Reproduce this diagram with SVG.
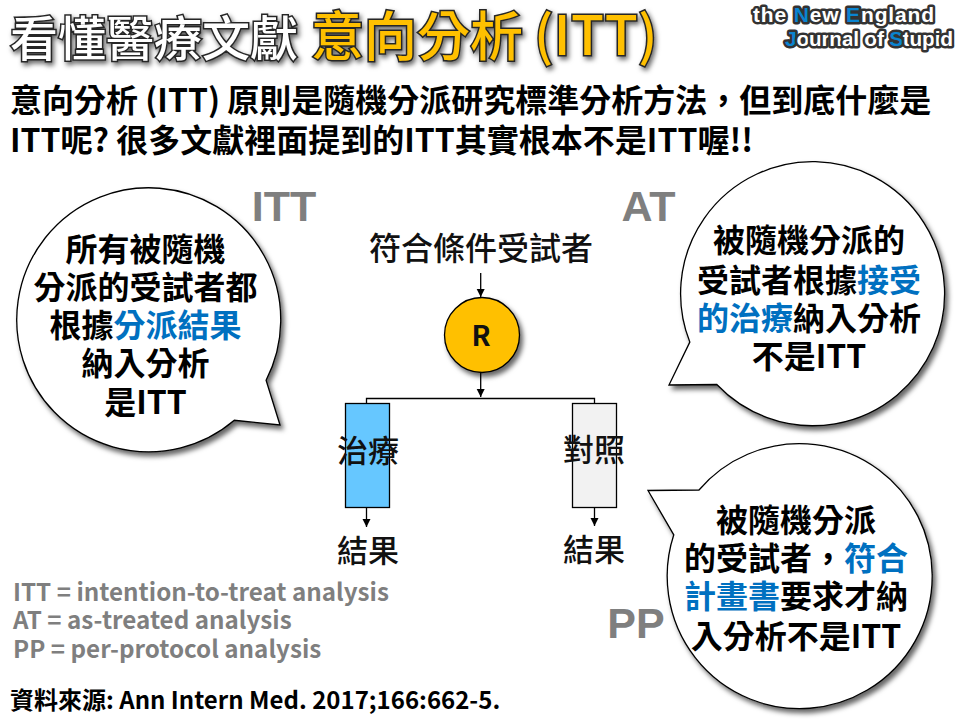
<svg xmlns="http://www.w3.org/2000/svg" width="960" height="720" viewBox="0 0 960 720">
<style>
text{font-family:"Noto Sans CJK TC","Noto Sans",sans-serif}
.title{font-size:48px;font-weight:500;stroke:#262626;stroke-width:3px;paint-order:stroke;filter:url(#ts)}
.body{font-size:32px;font-weight:700;fill:#000}
.big{font-size:32px;font-weight:700;fill:#000;text-anchor:middle}
.b{fill:#0070c0}
.node{font-size:31px;font-weight:500;fill:#111;text-anchor:middle}
.lab{font-family:"Liberation Sans",Arial,sans-serif;font-size:43px;font-weight:700;fill:#7f7f7f;text-anchor:middle}
.leg{font-size:24.200px;font-weight:700;fill:#7f7f7f}
.logo{font-family:"Liberation Sans",sans-serif;font-size:21px;font-weight:700;fill:#fff;stroke:#333;stroke-width:5px;paint-order:stroke;stroke-linejoin:round}
.bub{fill:#fff;stroke:#000;stroke-width:1.3;filter:url(#ds)}
.ln{fill:none;stroke:#000;stroke-width:1.3}
</style>
<defs>
<filter id="ds" x="-20%" y="-20%" width="140%" height="140%"><feDropShadow dx="3" dy="4" stdDeviation="2.5" flood-color="#000" flood-opacity="0.6"/></filter>
<filter id="ts" x="-10%" y="-30%" width="120%" height="170%"><feDropShadow dx="2" dy="3" stdDeviation="2.5" flood-color="#000" flood-opacity="0.6"/></filter>
<marker id="arr" markerWidth="10" markerHeight="10" refX="8" refY="4" orient="auto" markerUnits="userSpaceOnUse"><path d="M0 0L8 4L0 8Z" fill="#000"/></marker>
</defs>
<rect width="960" height="720" fill="#fff"/>
<g id="title">
<text x="10" y="56" class="title" fill="#fff">看懂醫療文獻</text>
<text x="311" y="56" class="title" fill="#ffc000" style="font-size:53px">意向分析</text>
<text x="534" y="55" class="title" fill="#ffc000" style="font-size:54px;letter-spacing:0.600px">(ITT)</text>
</g>
<g id="logo">
<text x="753" y="22" class="logo" textLength="181" lengthAdjust="spacing">the <tspan fill="#0a84d0">N</tspan>ew <tspan fill="#0a84d0">E</tspan>ngland</text>
<text x="785" y="46" class="logo" textLength="168" lengthAdjust="spacing"><tspan fill="#0a84d0">J</tspan>ournal of <tspan fill="#0a84d0">S</tspan>tupid</text>
</g>
<g id="intro">
<text x="10" y="112" class="body">意向分析 (ITT) 原則是隨機分派研究標準分析方法，但到底什麼是</text>
<text x="10" y="152" class="body">ITT呢? 很多文獻裡面提到的ITT其實根本不是ITT喔!!</text>
</g>
<g id="label-itt"><text x="284" y="221" class="lab">ITT</text></g>
<g id="label-at"><text x="648.500" y="221" class="lab">AT</text></g>
<g id="label-pp"><text x="636" y="638" class="lab">PP</text></g>
<g id="connectors">
<path class="ln" d="M480.700 273V297" marker-end="url(#arr)"/>
<path class="ln" d="M480.700 372V397" marker-end="url(#arr)"/>
<path class="ln" d="M366.500 403V398.500H594.500V403"/>
<path class="ln" d="M366.500 507V527" marker-end="url(#arr)"/>
<path class="ln" d="M594.500 507V526" marker-end="url(#arr)"/>
</g>
<g id="node-eligible"><text x="481" y="260" style="font-size:32px" class="node">符合條件受試者</text></g>
<g id="node-r">
<circle cx="482" cy="335" r="37.500" fill="#ffc000" stroke="#000" stroke-width="1.300" filter="url(#ds)"/>
<text x="481" y="346" style="font-size:28px;font-weight:700" class="node">R</text>
</g>
<g id="node-treat">
<rect x="345.500" y="403.500" width="44" height="104" fill="#66c7ff" stroke="#000" stroke-width="1.300"/>
<text x="368" y="462" class="node">治療</text>
</g>
<g id="node-control">
<rect x="572.500" y="403.500" width="44" height="104" fill="#f2f2f2" stroke="#000" stroke-width="1.300"/>
<text x="594" y="461" class="node">對照</text>
</g>
<g id="node-outcome1"><text x="368" y="562" class="node">結果</text></g>
<g id="node-outcome2"><text x="594" y="561" class="node">結果</text></g>
<g id="bubble-itt">
<path class="bub" d="M266.100 380.200A132 132 0 1 0 234.300 420.300L280 425Z"/>
<text class="big" x="145.500" y="261">所有被隨機</text>
<text class="big" x="145.500" y="299">分派的受試者都</text>
<text class="big" x="145.500" y="337">根據<tspan class="b">分派結果</tspan></text>
<text class="big" x="145.500" y="375">納入分析</text>
<text class="big" x="145.500" y="414">是ITT</text>
</g>
<g id="bubble-at">
<path class="bub" d="M689.800 342.100A132 132 0 1 1 716.800 384.500L669 385Z"/>
<text class="big" x="809" y="252">被隨機分派的</text>
<text class="big" x="809" y="292">受試者根據<tspan class="b">接受</tspan></text>
<text class="big" x="809" y="330"><tspan class="b">的治療</tspan>納入分析</text>
<text class="big" x="809" y="368">不是ITT</text>
</g>
<g id="bubble-pp">
<path class="bub" d="M699 490A132.500 132.500 0 1 1 673.800 534.800L648 490.500Z"/>
<text class="big" x="796" y="532">被隨機分派</text>
<text class="big" x="796" y="570">的受試者，<tspan class="b">符合</tspan></text>
<text class="big" x="796" y="608"><tspan class="b">計畫書</tspan>要求才納</text>
<text class="big" x="796" y="648">入分析不是ITT</text>
</g>
<g id="legend">
<text x="13" y="601" class="leg">ITT = intention-to-treat analysis</text>
<text x="13" y="629" class="leg">AT = as-treated analysis</text>
<text x="13" y="658" class="leg">PP = per-protocol analysis</text>
</g>
<g id="source"><text x="10" y="709" style="font-size:24px;font-weight:700;fill:#000">資料來源: Ann Intern Med. 2017;166:662-5.</text></g>
</svg>
